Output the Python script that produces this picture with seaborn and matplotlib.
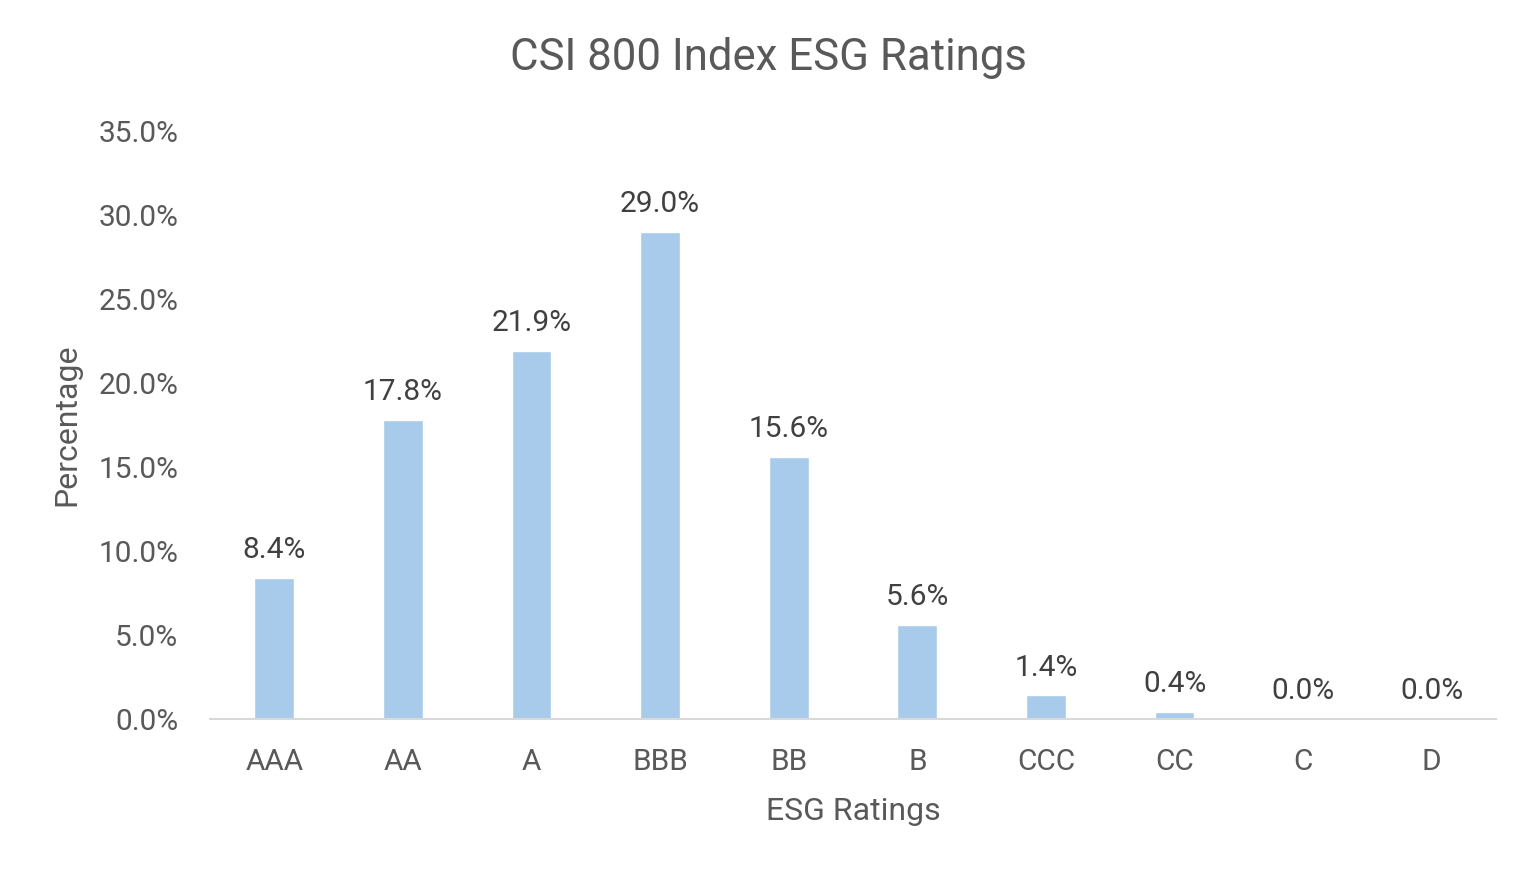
import pandas as pd
import matplotlib.pyplot as plt
import seaborn as sns
from matplotlib.ticker import PercentFormatter

# datos
ratings = ['AAA', 'AA', 'A', 'BBB', 'BB', 'B', 'CCC', 'CC', 'C', 'D']
pct = [8.4, 17.8, 21.9, 29.0, 15.6, 5.6, 1.4, 0.4, 0.0, 0.0]
yticks = [0, 5, 10, 15, 20, 25, 30, 35]

df = pd.DataFrame({'rating': ratings, 'pct': pct})

sns.set_style('white')
plt.rcParams['font.family'] = ['Roboto', 'DejaVu Sans']

gris = '#595959'

fig = plt.figure(figsize=(15.36, 8.77), dpi=100)
ax = fig.add_axes([0.1367, 0.1802, 0.8373, 0.6704])

sns.barplot(data=df, x='rating', y='pct', color='#A9CBEB', saturation=1,
            width=0.31, ax=ax)

# etiquetas de datos
for i, v in enumerate(pct):
    ax.annotate(f'{v:.1f}%', (i, v), xytext=(0, 10), textcoords='offset points',
                ha='center', va='bottom', fontsize=21.5, color='#404040')

ax.set_ylim(0, 35)
ax.set_yticks(yticks)
ax.yaxis.set_major_formatter(PercentFormatter(decimals=1))
ax.set_xlim(-0.5, len(ratings) - 0.5)

ax.tick_params(axis='both', length=0, labelsize=21.5, labelcolor=gris)
ax.tick_params(axis='x', pad=21)
ax.tick_params(axis='y', pad=23)

for s in ['top', 'right', 'left']:
    ax.spines[s].set_visible(False)
ax.spines['bottom'].set_color('#D9D9D9')
ax.spines['bottom'].set_linewidth(1.5)

ax.set_xlabel('ESG Ratings', fontsize=23, color=gris, labelpad=15)
ax.set_ylabel('Percentage', fontsize=23, color=gris, labelpad=12)

fig.suptitle('CSI 800 Index ESG Ratings', fontsize=31.5, color=gris, y=0.958)

fig.savefig('out.png', dpi=100)
